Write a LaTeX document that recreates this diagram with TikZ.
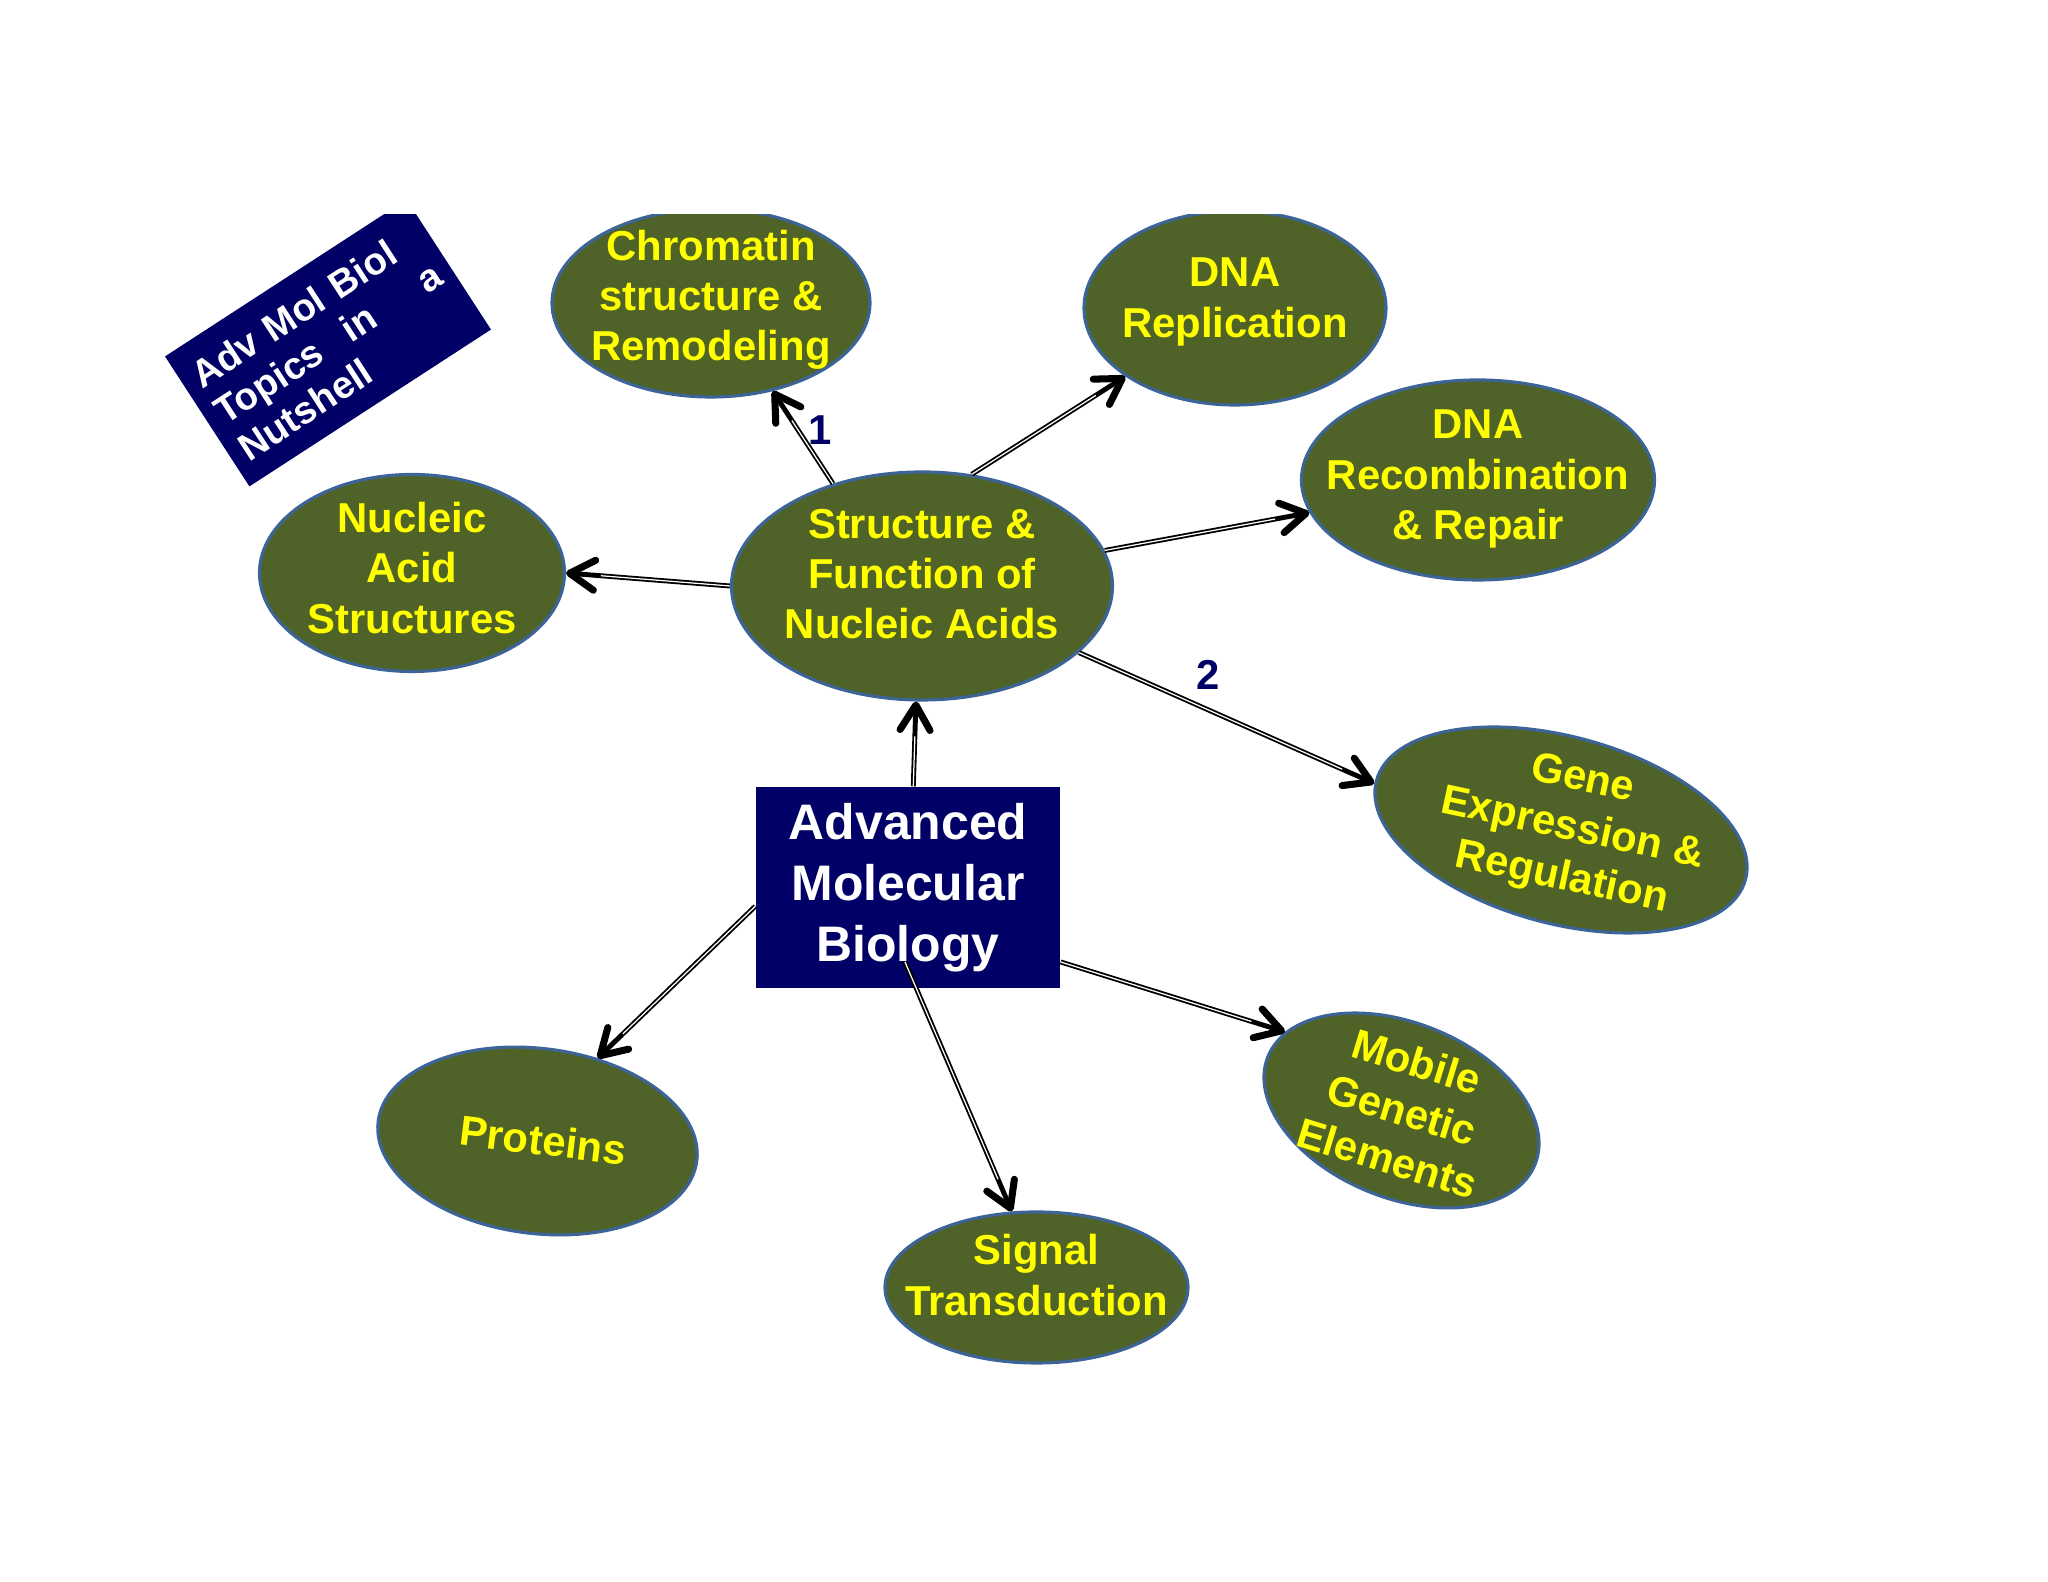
\documentclass[tikz,border=0pt]{standalone}
\usepackage{fontspec}
\setmainfont{Liberation Sans}
\usepackage{xcolor}
\usepackage{tikz}
\usetikzlibrary{arrows.meta,shapes.geometric}
\definecolor{olivefill}{HTML}{4F6228}
\definecolor{ovalrim}{HTML}{3C6496}
\definecolor{deepnavy}{HTML}{000066}
\definecolor{topicink}{HTML}{FFFF00}

\begin{document}
\begin{tikzpicture}[font=\bfseries,
  topic/.style={ellipse,draw=ovalrim,line width=0.9pt,fill=olivefill,inner sep=0pt},
  topictext/.style={text=topicink,align=center,inner sep=0pt,font=\fontsize{11.9}{14.3}\selectfont\bfseries},
  banner/.style={rectangle,fill=deepnavy,inner sep=0pt,text=white,align=center},
  num/.style={text=deepnavy,inner sep=0pt,font=\fontsize{11.9}{14.3}\selectfont\bfseries},
  link/.style={black,line width=1.4pt,-{Straight Barb[round,length=0.25cm,width=0.30cm,line width=2pt]},
    postaction={draw=white,line width=0.35pt,arrows=-,shorten >=0.35cm}}]
  \fill[white] (0,0) rectangle (20.48,15.82);
  \begin{scope}
    \clip (0,0) rectangle (20.48,13.67);
    % title tag
    \node[banner,minimum width=2.88cm,minimum height=1.55cm,rotate=33,text width=2.62cm,align=left,
      font=\fontsize{10.9}{12.3}\selectfont\bfseries] (tag) at (3.28,12.39)
      {Adv Mol Biol\\\makebox[2.62cm][l]{Topics\hspace{0.3cm}in\hfill a}\\Nutshell};
    % centre box
    \node[banner,minimum width=3.04cm,minimum height=2.01cm,font=\fontsize{14.2}{17.4}\selectfont\bfseries] (amb) at (9.08,6.945)
      {Advanced\\Molecular\\Biology};
    % topics
    \node[topic,minimum width=3.81cm,minimum height=2.28cm] (sf) at (9.22,9.96) {};
    \node[topictext] (sft) at (9.22,10.08) {Structure \&\\Function of\\Nucleic Acids};
    \node[topic,minimum width=3.18cm,minimum height=1.88cm] (chrom) at (7.11,12.79) {};
    \node[topictext] (chromt) at (7.11,12.82) {Chromatin\\structure \&\\Remodeling};
    \node[topic,minimum width=3.02cm,minimum height=1.94cm] (dnarep) at (12.35,12.74) {};
    \node[topictext] (dnarept) at (12.35,12.80) {DNA\\Replication};
    \node[topic,minimum width=3.53cm,minimum height=2.00cm] (recomb) at (14.78,11.02) {};
    \node[topictext] (recombt) at (14.78,11.03) {DNA\\Recombination\\\& Repair};
    \node[topic,minimum width=3.05cm,minimum height=1.97cm] (nas) at (4.12,10.09) {};
    \node[topictext] (nast) at (4.12,10.14) {Nucleic\\Acid\\Structures};
    \node[topic,minimum width=3.82cm,minimum height=1.87cm,rotate=-15] (gene) at (15.61,7.52) {};
    \node[topictext,rotate=-12] (genet) at (15.72,7.52) {Gene\\Expression \&\\Regulation};
    \node[topic,minimum width=3.21cm,minimum height=1.85cm,rotate=-7] (prot) at (5.375,4.41) {};
    \node[topictext,rotate=-7] (prott) at (5.43,4.42) {Proteins};
    \node[topic,minimum width=3.03cm,minimum height=1.51cm] (sig) at (10.365,2.945) {};
    \node[topictext] (sigt) at (10.365,3.07) {Signal\\Transduction};
    \node[topic,minimum width=2.88cm,minimum height=1.75cm,rotate=-22] (mob) at (14.015,4.715) {};
    \node[topictext,rotate=-17] (mobt) at (14.02,4.72) {Mobile\\Genetic\\Elements};
    % links
    \coordinate (ambfoot) at (9.05,6.20);
    \draw[link] (sf.131) -- (chrom.-55);
    \draw[link] (sf.66) -- (dnarep.212);
    \draw[link] (sf.11) -- (recomb.191);
    \draw[link] (sf.west) -- (nas.east);
    \draw[link] (sf.-23) -- (gene.181);
    \draw[link] (amb.87) -- (sf.-93);
    \draw[link] (amb.187.5) -- (prot.61);
    \draw[link] (ambfoot) -- (sig.108);
    \draw[link] (amb.-26) -- (mob.168);
    \node[num] (one) at (8.20,11.52) {1};
    \node[num] (two) at (12.08,9.07) {2};
  \end{scope}
\end{tikzpicture}
\end{document}
